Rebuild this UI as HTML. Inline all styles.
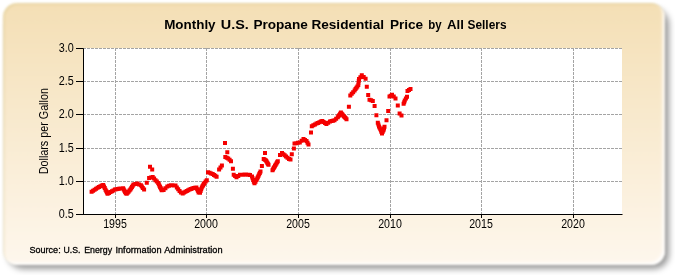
<!DOCTYPE html>
<html><head><meta charset="utf-8"><style>
html,body{margin:0;padding:0;background:#fff;width:675px;height:275px;overflow:hidden}
.shadow{position:absolute;left:8px;top:9px;width:661px;height:260px;border-radius:15px;background:rgba(0,0,0,0.40);filter:blur(3.4px)}
.panel{position:absolute;left:3px;top:3px;width:662px;height:261.5px;border-radius:14px;
background:linear-gradient(to bottom,#f4dfb5 0%,#fef7ed 100%);box-shadow:inset 1.5px 1.5px 2px rgba(180,170,90,0.18),inset -2.5px -2.5px 2.5px rgba(255,255,255,0.9);filter:blur(1.1px)}
svg{position:absolute;left:0;top:0;will-change:transform}
text{font-family:"Liberation Sans",sans-serif;fill:#000}
</style></head><body>
<div class="shadow"></div><div class="panel"></div>
<svg width="675" height="275" viewBox="0 0 675 275">
<rect x="84" y="48" width="538" height="166" fill="#fff"/>
<line x1="83" y1="48.5" x2="622" y2="48.5" stroke="#a4a4a4" stroke-width="1" stroke-dasharray="3,1"/><line x1="83" y1="81.5" x2="622" y2="81.5" stroke="#a4a4a4" stroke-width="1" stroke-dasharray="3,1"/><line x1="83" y1="114.5" x2="622" y2="114.5" stroke="#a4a4a4" stroke-width="1" stroke-dasharray="3,1"/><line x1="83" y1="148.5" x2="622" y2="148.5" stroke="#a4a4a4" stroke-width="1" stroke-dasharray="3,1"/><line x1="83" y1="181.5" x2="622" y2="181.5" stroke="#a4a4a4" stroke-width="1" stroke-dasharray="3,1"/><line x1="83" y1="214.5" x2="622" y2="214.5" stroke="#a4a4a4" stroke-width="1" stroke-dasharray="3,1"/><line x1="115.5" y1="48" x2="115.5" y2="215" stroke="#a4a4a4" stroke-width="1" stroke-dasharray="3,1"/><line x1="206.5" y1="48" x2="206.5" y2="215" stroke="#a4a4a4" stroke-width="1" stroke-dasharray="3,1"/><line x1="298.5" y1="48" x2="298.5" y2="215" stroke="#a4a4a4" stroke-width="1" stroke-dasharray="3,1"/><line x1="390.5" y1="48" x2="390.5" y2="215" stroke="#a4a4a4" stroke-width="1" stroke-dasharray="3,1"/><line x1="481.5" y1="48" x2="481.5" y2="215" stroke="#a4a4a4" stroke-width="1" stroke-dasharray="3,1"/><line x1="573.5" y1="48" x2="573.5" y2="215" stroke="#a4a4a4" stroke-width="1" stroke-dasharray="3,1"/>
<g><path d="M89.60 189.80h4.0v4.0h-4.0zM91.10 188.80h4.0v4.0h-4.0zM92.60 187.80h4.0v4.0h-4.0zM94.10 186.80h4.0v4.0h-4.0zM95.60 185.80h4.0v4.0h-4.0zM97.00 185.08h4.0v4.0h-4.0zM98.40 184.35h4.0v4.0h-4.0zM99.80 183.62h4.0v4.0h-4.0zM101.20 182.90h4.0v4.0h-4.0zM101.97 184.50h4.0v4.0h-4.0zM102.75 186.10h4.0v4.0h-4.0zM103.53 187.70h4.0v4.0h-4.0zM104.30 189.30h4.0v4.0h-4.0zM104.95 190.55h4.0v4.0h-4.0zM105.60 191.80h4.0v4.0h-4.0zM107.06 190.96h4.0v4.0h-4.0zM108.52 190.12h4.0v4.0h-4.0zM109.98 189.28h4.0v4.0h-4.0zM111.44 188.44h4.0v4.0h-4.0zM112.90 187.60h4.0v4.0h-4.0zM114.28 187.32h4.0v4.0h-4.0zM115.65 187.05h4.0v4.0h-4.0zM117.03 186.78h4.0v4.0h-4.0zM118.40 186.50h4.0v4.0h-4.0zM119.75 186.40h4.0v4.0h-4.0zM121.10 186.30h4.0v4.0h-4.0zM121.77 187.55h4.0v4.0h-4.0zM122.45 188.80h4.0v4.0h-4.0zM123.12 190.05h4.0v4.0h-4.0zM123.80 191.30h4.0v4.0h-4.0zM124.70 191.70h4.0v4.0h-4.0zM125.62 190.67h4.0v4.0h-4.0zM126.55 189.65h4.0v4.0h-4.0zM127.48 188.62h4.0v4.0h-4.0zM128.40 187.60h4.0v4.0h-4.0zM129.18 186.35h4.0v4.0h-4.0zM129.95 185.10h4.0v4.0h-4.0zM130.72 183.85h4.0v4.0h-4.0zM131.50 182.60h4.0v4.0h-4.0zM133.40 182.10h4.0v4.0h-4.0zM135.30 181.60h4.0v4.0h-4.0zM137.10 182.40h4.0v4.0h-4.0zM138.90 183.20h4.0v4.0h-4.0zM139.85 184.60h4.0v4.0h-4.0zM140.80 186.00h4.0v4.0h-4.0zM142.10 187.40h4.0v4.0h-4.0zM147.10 175.90h4.0v4.0h-4.0zM148.90 175.40h4.0v4.0h-4.0zM150.70 174.90h4.0v4.0h-4.0zM152.10 176.55h4.0v4.0h-4.0zM153.50 178.20h4.0v4.0h-4.0zM154.85 179.55h4.0v4.0h-4.0zM156.20 180.90h4.0v4.0h-4.0zM156.85 182.35h4.0v4.0h-4.0zM157.50 183.80h4.0v4.0h-4.0zM158.07 184.93h4.0v4.0h-4.0zM158.65 186.05h4.0v4.0h-4.0zM159.23 187.18h4.0v4.0h-4.0zM159.80 188.30h4.0v4.0h-4.0zM161.60 188.00h4.0v4.0h-4.0zM163.45 186.25h4.0v4.0h-4.0zM165.30 184.50h4.0v4.0h-4.0zM167.10 183.85h4.0v4.0h-4.0zM168.90 183.20h4.0v4.0h-4.0zM170.43 183.33h4.0v4.0h-4.0zM171.97 183.47h4.0v4.0h-4.0zM173.50 183.60h4.0v4.0h-4.0zM174.85 185.45h4.0v4.0h-4.0zM176.20 187.30h4.0v4.0h-4.0zM177.55 188.90h4.0v4.0h-4.0zM178.90 190.50h4.0v4.0h-4.0zM180.70 191.40h4.0v4.0h-4.0zM182.07 190.60h4.0v4.0h-4.0zM183.45 189.80h4.0v4.0h-4.0zM184.82 189.00h4.0v4.0h-4.0zM186.20 188.20h4.0v4.0h-4.0zM187.55 187.62h4.0v4.0h-4.0zM188.90 187.05h4.0v4.0h-4.0zM190.25 186.47h4.0v4.0h-4.0zM191.60 185.90h4.0v4.0h-4.0zM193.00 185.70h4.0v4.0h-4.0zM194.40 185.50h4.0v4.0h-4.0zM195.13 187.17h4.0v4.0h-4.0zM195.87 188.83h4.0v4.0h-4.0zM196.60 190.50h4.0v4.0h-4.0zM198.00 190.80h4.0v4.0h-4.0zM198.60 189.03h4.0v4.0h-4.0zM199.20 187.27h4.0v4.0h-4.0zM199.80 185.50h4.0v4.0h-4.0zM200.48 184.35h4.0v4.0h-4.0zM201.15 183.20h4.0v4.0h-4.0zM201.82 182.05h4.0v4.0h-4.0zM202.50 180.90h4.0v4.0h-4.0zM203.65 179.55h4.0v4.0h-4.0zM204.80 178.20h4.0v4.0h-4.0zM206.00 170.20h4.0v4.0h-4.0zM207.57 170.80h4.0v4.0h-4.0zM209.13 171.40h4.0v4.0h-4.0zM210.70 172.00h4.0v4.0h-4.0zM212.00 172.93h4.0v4.0h-4.0zM213.30 173.87h4.0v4.0h-4.0zM214.60 174.80h4.0v4.0h-4.0zM223.30 155.00h4.0v4.0h-4.0zM224.75 155.75h4.0v4.0h-4.0zM226.20 156.50h4.0v4.0h-4.0zM227.60 157.85h4.0v4.0h-4.0zM229.00 159.20h4.0v4.0h-4.0zM231.70 172.80h4.0v4.0h-4.0zM233.10 174.05h4.0v4.0h-4.0zM234.50 175.30h4.0v4.0h-4.0zM236.25 174.05h4.0v4.0h-4.0zM238.00 172.80h4.0v4.0h-4.0zM239.50 172.73h4.0v4.0h-4.0zM241.00 172.65h4.0v4.0h-4.0zM242.50 172.57h4.0v4.0h-4.0zM244.00 172.50h4.0v4.0h-4.0zM245.33 172.67h4.0v4.0h-4.0zM246.67 172.83h4.0v4.0h-4.0zM248.00 173.00h4.0v4.0h-4.0zM250.00 174.50h4.0v4.0h-4.0zM250.60 176.25h4.0v4.0h-4.0zM251.20 178.00h4.0v4.0h-4.0zM251.85 179.65h4.0v4.0h-4.0zM252.50 181.30h4.0v4.0h-4.0zM253.50 179.65h4.0v4.0h-4.0zM254.50 178.00h4.0v4.0h-4.0zM255.17 176.60h4.0v4.0h-4.0zM255.83 175.20h4.0v4.0h-4.0zM256.50 173.80h4.0v4.0h-4.0zM257.17 172.37h4.0v4.0h-4.0zM257.83 170.93h4.0v4.0h-4.0zM258.50 169.50h4.0v4.0h-4.0zM261.70 157.10h4.0v4.0h-4.0zM262.85 157.80h4.0v4.0h-4.0zM264.00 158.50h4.0v4.0h-4.0zM264.62 159.57h4.0v4.0h-4.0zM265.25 160.65h4.0v4.0h-4.0zM265.88 161.73h4.0v4.0h-4.0zM266.50 162.80h4.0v4.0h-4.0zM270.50 168.30h4.0v4.0h-4.0zM271.12 167.18h4.0v4.0h-4.0zM271.75 166.05h4.0v4.0h-4.0zM272.38 164.93h4.0v4.0h-4.0zM273.00 163.80h4.0v4.0h-4.0zM273.70 162.65h4.0v4.0h-4.0zM274.40 161.50h4.0v4.0h-4.0zM275.10 160.35h4.0v4.0h-4.0zM275.80 159.20h4.0v4.0h-4.0zM278.00 153.00h4.0v4.0h-4.0zM280.00 151.00h4.0v4.0h-4.0zM281.33 152.17h4.0v4.0h-4.0zM282.67 153.33h4.0v4.0h-4.0zM284.00 154.50h4.0v4.0h-4.0zM285.50 155.75h4.0v4.0h-4.0zM287.00 157.00h4.0v4.0h-4.0zM288.50 157.50h4.0v4.0h-4.0zM292.50 141.50h4.0v4.0h-4.0zM294.27 141.17h4.0v4.0h-4.0zM296.03 140.83h4.0v4.0h-4.0zM297.80 140.50h4.0v4.0h-4.0zM299.65 138.75h4.0v4.0h-4.0zM301.50 137.00h4.0v4.0h-4.0zM303.00 138.00h4.0v4.0h-4.0zM304.50 139.00h4.0v4.0h-4.0zM305.50 140.75h4.0v4.0h-4.0zM306.50 142.50h4.0v4.0h-4.0zM309.80 124.20h4.0v4.0h-4.0zM311.37 123.30h4.0v4.0h-4.0zM312.93 122.40h4.0v4.0h-4.0zM314.50 121.50h4.0v4.0h-4.0zM315.95 120.88h4.0v4.0h-4.0zM317.40 120.25h4.0v4.0h-4.0zM318.85 119.62h4.0v4.0h-4.0zM320.30 119.00h4.0v4.0h-4.0zM321.67 119.97h4.0v4.0h-4.0zM323.03 120.93h4.0v4.0h-4.0zM324.40 121.90h4.0v4.0h-4.0zM326.20 120.70h4.0v4.0h-4.0zM328.00 119.50h4.0v4.0h-4.0zM329.50 119.07h4.0v4.0h-4.0zM331.00 118.63h4.0v4.0h-4.0zM332.50 118.20h4.0v4.0h-4.0zM334.15 116.70h4.0v4.0h-4.0zM335.80 115.20h4.0v4.0h-4.0zM336.58 114.05h4.0v4.0h-4.0zM337.35 112.90h4.0v4.0h-4.0zM338.12 111.75h4.0v4.0h-4.0zM338.90 110.60h4.0v4.0h-4.0zM339.80 111.70h4.0v4.0h-4.0zM340.70 112.80h4.0v4.0h-4.0zM341.60 113.90h4.0v4.0h-4.0zM342.50 115.00h4.0v4.0h-4.0zM343.50 116.10h4.0v4.0h-4.0zM344.50 117.20h4.0v4.0h-4.0zM348.30 93.50h4.0v4.0h-4.0zM349.73 91.83h4.0v4.0h-4.0zM351.17 90.17h4.0v4.0h-4.0zM352.60 88.50h4.0v4.0h-4.0zM353.53 87.12h4.0v4.0h-4.0zM354.45 85.75h4.0v4.0h-4.0zM355.38 84.38h4.0v4.0h-4.0zM356.30 83.00h4.0v4.0h-4.0zM356.53 81.00h4.0v4.0h-4.0zM356.77 79.00h4.0v4.0h-4.0zM357.00 77.00h4.0v4.0h-4.0zM358.40 75.15h4.0v4.0h-4.0zM359.80 73.30h4.0v4.0h-4.0zM361.70 75.05h4.0v4.0h-4.0zM363.60 76.80h4.0v4.0h-4.0zM367.50 97.70h4.0v4.0h-4.0zM369.15 98.35h4.0v4.0h-4.0zM370.80 99.00h4.0v4.0h-4.0zM375.80 120.70h4.0v4.0h-4.0zM376.40 122.55h4.0v4.0h-4.0zM377.00 124.40h4.0v4.0h-4.0zM377.67 125.77h4.0v4.0h-4.0zM378.33 127.13h4.0v4.0h-4.0zM379.00 128.50h4.0v4.0h-4.0zM379.50 130.00h4.0v4.0h-4.0zM380.00 131.50h4.0v4.0h-4.0zM380.75 129.85h4.0v4.0h-4.0zM381.50 128.20h4.0v4.0h-4.0zM382.00 126.45h4.0v4.0h-4.0zM382.50 124.70h4.0v4.0h-4.0zM387.50 94.60h4.0v4.0h-4.0zM388.75 93.65h4.0v4.0h-4.0zM390.00 92.70h4.0v4.0h-4.0zM391.75 94.55h4.0v4.0h-4.0zM393.50 96.40h4.0v4.0h-4.0zM397.60 111.50h4.0v4.0h-4.0zM399.50 113.50h4.0v4.0h-4.0zM401.60 101.80h4.0v4.0h-4.0zM402.20 100.15h4.0v4.0h-4.0zM402.80 98.50h4.0v4.0h-4.0zM403.90 96.60h4.0v4.0h-4.0zM405.00 94.70h4.0v4.0h-4.0zM405.50 89.00h4.0v4.0h-4.0zM407.00 88.00h4.0v4.0h-4.0zM408.50 87.00h4.0v4.0h-4.0zM144.80 180.80h4v4h-4zM148.00 164.80h4v4h-4zM150.20 167.60h4v4h-4zM217.10 167.60h4v4h-4zM218.50 165.60h4v4h-4zM219.90 163.60h4v4h-4zM223.00 141.00h4v4h-4zM225.30 150.30h4v4h-4zM230.90 166.80h4v4h-4zM259.90 164.00h4v4h-4zM263.00 151.00h4v4h-4zM289.80 152.20h4v4h-4zM291.90 146.60h4v4h-4zM309.00 130.50h4v4h-4zM346.90 104.80h4v4h-4zM364.80 84.80h4v4h-4zM366.20 93.00h4v4h-4zM372.60 104.00h4v4h-4zM374.40 113.20h4v4h-4zM384.50 118.30h4v4h-4zM386.20 109.00h4v4h-4zM395.80 103.60h4v4h-4z" fill="#f40000"/></g>
<line x1="83.5" y1="48.5" x2="83.5" y2="215.0" stroke="#000" stroke-width="1"/><line x1="83.0" y1="214.5" x2="622.5" y2="214.5" stroke="#000" stroke-width="1"/><line x1="76" y1="48.5" x2="83.5" y2="48.5" stroke="#000" stroke-width="1"/><line x1="76" y1="81.5" x2="83.5" y2="81.5" stroke="#000" stroke-width="1"/><line x1="76" y1="114.5" x2="83.5" y2="114.5" stroke="#000" stroke-width="1"/><line x1="76" y1="148.5" x2="83.5" y2="148.5" stroke="#000" stroke-width="1"/><line x1="76" y1="181.5" x2="83.5" y2="181.5" stroke="#000" stroke-width="1"/><line x1="76" y1="214.5" x2="83.5" y2="214.5" stroke="#000" stroke-width="1"/><line x1="115.5" y1="214.5" x2="115.5" y2="218" stroke="#000" stroke-width="1"/><line x1="206.5" y1="214.5" x2="206.5" y2="218" stroke="#000" stroke-width="1"/><line x1="298.5" y1="214.5" x2="298.5" y2="218" stroke="#000" stroke-width="1"/><line x1="390.5" y1="214.5" x2="390.5" y2="218" stroke="#000" stroke-width="1"/><line x1="481.5" y1="214.5" x2="481.5" y2="218" stroke="#000" stroke-width="1"/><line x1="573.5" y1="214.5" x2="573.5" y2="218" stroke="#000" stroke-width="1"/>
<g font-size="12"><text transform="translate(73.8,52.3) scale(0.9,1)" text-anchor="end">3.0</text><text transform="translate(73.8,85.3) scale(0.9,1)" text-anchor="end">2.5</text><text transform="translate(73.8,118.3) scale(0.9,1)" text-anchor="end">2.0</text><text transform="translate(73.8,152.3) scale(0.9,1)" text-anchor="end">1.5</text><text transform="translate(73.8,185.3) scale(0.9,1)" text-anchor="end">1.0</text><text transform="translate(73.8,218.3) scale(0.9,1)" text-anchor="end">0.5</text><text transform="translate(115.0,227.6) scale(0.885,1)" text-anchor="middle">1995</text><text transform="translate(206.0,227.6) scale(0.885,1)" text-anchor="middle">2000</text><text transform="translate(298.0,227.6) scale(0.885,1)" text-anchor="middle">2005</text><text transform="translate(390.0,227.6) scale(0.885,1)" text-anchor="middle">2010</text><text transform="translate(481.0,227.6) scale(0.885,1)" text-anchor="middle">2015</text><text transform="translate(573.0,227.6) scale(0.885,1)" text-anchor="middle">2020</text></g>
<g font-size="13.5" font-weight="bold"><text transform="translate(164.21,28.5) scale(0.994,1)">Monthly</text><text transform="translate(220.85,28.5) scale(1.065,1)">U.S.</text><text transform="translate(253.39,28.5) scale(1.008,1)">Propane</text><text transform="translate(311.39,28.5) scale(1.009,1)">Residential</text><text transform="translate(389.89,28.5) scale(1.009,1)">Price</text><text transform="translate(428.23,28.5) scale(0.851,1)">by</text><text transform="translate(446.91,28.5) scale(0.981,1)">All</text><text transform="translate(467.55,28.5) scale(0.880,1)">Sellers</text></g>
<g font-size="9.3" stroke="#000" stroke-width="0.3"><text transform="translate(29.51,252.9) scale(0.974,1)">Source:</text><text transform="translate(63.55,252.9) scale(0.933,1)">U.S.</text><text transform="translate(84.14,252.9) scale(0.948,1)">Energy</text><text transform="translate(115.41,252.9) scale(0.993,1)">Information</text><text transform="translate(164.20,252.9) scale(0.993,1)">Administration</text></g>
<text transform="translate(48,131.2) rotate(-90) scale(0.898,1)" text-anchor="middle" font-size="12">Dollars per Gallon</text>
</svg>
</body></html>
